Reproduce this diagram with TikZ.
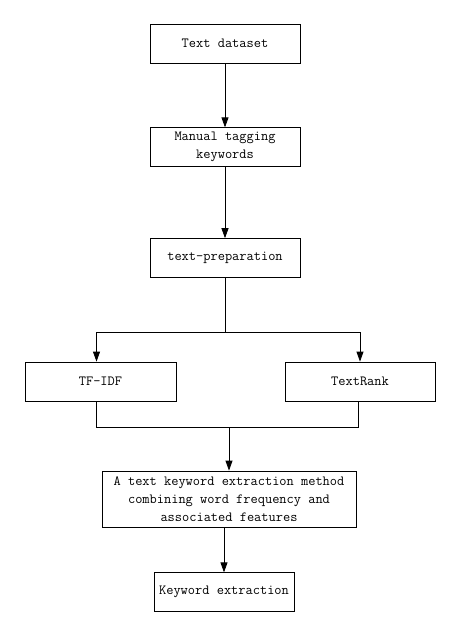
\documentclass[tikz,border=0pt]{standalone}
\usetikzlibrary{arrows.meta}
\usetikzlibrary{positioning}

\tikzset{
    stepbox/.style={draw, line width=0.8pt, minimum width=150pt, minimum height=39pt,
        align=center, inner sep=2pt, font=\ttfamily\fontsize{14}{18}\selectfont},
    flow/.style={line width=0.8pt, -{Triangle[length=10pt,width=7pt]}},
    link/.style={line width=0.8pt}
}

\begin{document}
\begin{tikzpicture}[x=1pt,y=-1pt]

        \useasboundingbox (0,0) rectangle (474,633);

        \node[stepbox] (data) at (225,43.5) {Text dataset};
        \node[stepbox, below=64pt of data] (tag) {Manual tagging\\keywords};
        \node[stepbox, below=71pt of tag] (prep) {text-preparation};

        \node[stepbox, minimum width=151pt] (tfidf) at (100.5,381.5) {TF-IDF};
        \node[stepbox] (trank) at (360,381.5) {TextRank};

        \node[stepbox, minimum width=254pt, minimum height=56pt] (method) at (229,499)
            {A text keyword extraction method\\combining word frequency and\\associated features};
        \node[stepbox, minimum width=140pt, below=45pt of method, xshift=-5pt] (kw) {Keyword extraction};

        % split after preparation
        \coordinate (split) at (prep.south |- 0,332);
        \coordinate (merge) at (method.north |- 0,427);

        \draw[flow] (data) -- (tag);
        \draw[flow] (tag) -- (prep);

        \draw[link] (prep.south) -- (split);
        \draw[flow] (split) -| ([xshift=-4pt]tfidf.north);
        \draw[flow] (split) -| (trank.north);

        \draw[link] ([xshift=-4pt]tfidf.south) |- (merge);
        \draw[link] ([xshift=-2pt]trank.south) |- (merge);
        \draw[flow] (merge) -- (method.north);

        \draw[flow] (method.south -| kw.north) -- (kw.north);

\end{tikzpicture}
\end{document}
